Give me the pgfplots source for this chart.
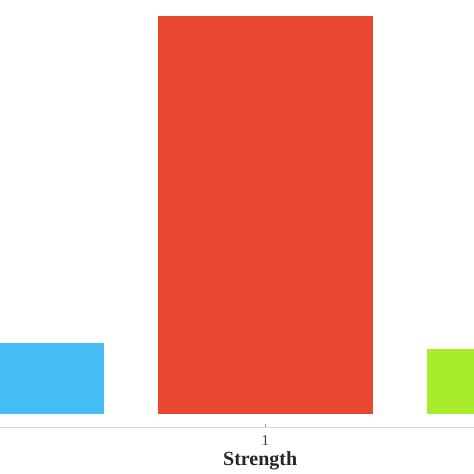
\documentclass[border=0pt]{standalone}
\usepackage{pgfplots}
\pgfplotsset{compat=1.18}
\usepackage{fontspec}
\setmainfont{Liberation Serif}
\definecolor{cblue}{HTML}{45BEF5}
\definecolor{cred}{HTML}{E9472F}
\definecolor{cgreen}{HTML}{A8EC2B}
\definecolor{axisgray}{HTML}{D8D8D8}
\begin{document}
\begin{tikzpicture}
\begin{axis}[
    name=ax,
    at={(0,0)}, anchor=south west,
    scale only axis,
    width=474pt, height=427pt,
    xmin=0.015, xmax=1.774,
    ymin=-3.27, ymax=104.02,
    ybar, bar width=0.8, bar shift=0pt,
    axis x line*=bottom,
    axis y line=none,
    x axis line style={axisgray, line width=0.8pt, -},
    xtick={0,1,2},
    xtick style={black!40, line width=0.6pt},
    major tick length=3pt,
    xtick align=inside,
    xticklabel style={font=\fontsize{15}{15}\selectfont, text=black!75, yshift=-5pt},
    /pgf/number format/assume math mode=true,
    xlabel={\textbf{Strength}},
    xlabel style={font=\fontsize{20}{20}\selectfont, text=black!85,
        at={(axis description cs:0.549,0)}, anchor=base, yshift=-38pt},
]
\addplot[fill=cblue, draw=none] coordinates {(0,17.8)};
\addplot[fill=cred, draw=none] coordinates {(1,100)};
\addplot[fill=cgreen, draw=none] coordinates {(2,16.3)};
\end{axis}
\pgfresetboundingbox
\path (ax.south west) ++(0,-47pt) rectangle (ax.north east);
\end{tikzpicture}
\end{document}
